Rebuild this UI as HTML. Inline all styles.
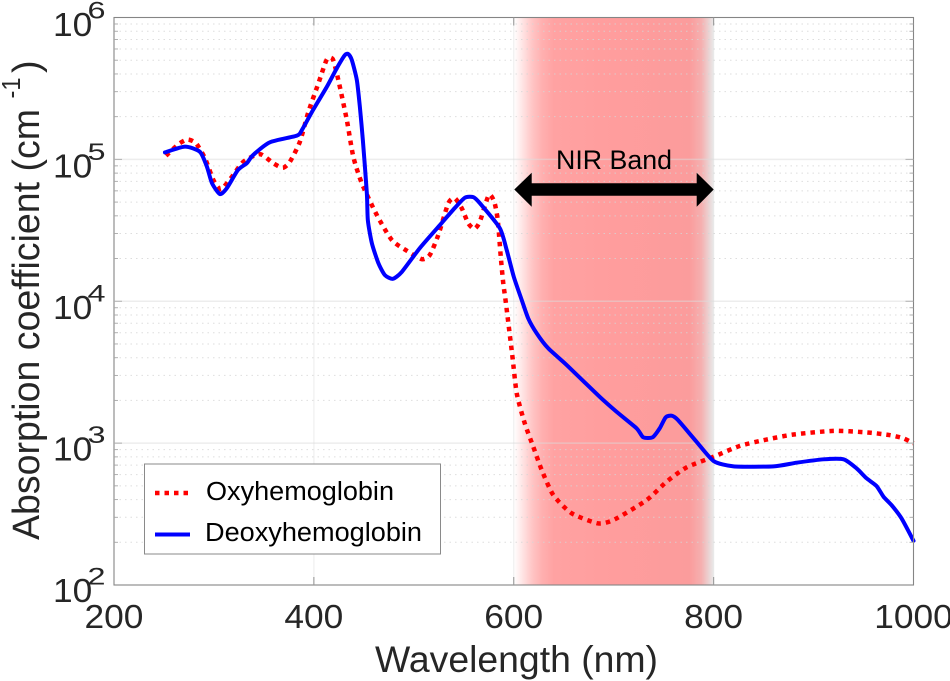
<!DOCTYPE html>
<html lang="en">
<head>
<meta charset="utf-8">
<title>Absorption coefficient of hemoglobin</title>
<style>
html,body{margin:0;padding:0;background:#fff;}
svg{display:block;font-family:"Liberation Sans",Arial,sans-serif;}
</style>
</head>
<body>
<svg id="chart" xmlns="http://www.w3.org/2000/svg" width="950" height="681" viewBox="0 0 950 681">
  <defs>
    <linearGradient id="bandFill" x1="0" x2="1" y1="0" y2="0">
      <stop offset="0" stop-color="#ffffff"/>
      <stop offset="0.04" stop-color="#ffe6e6"/>
      <stop offset="0.09" stop-color="#ffc6c6"/>
      <stop offset="0.14" stop-color="#ffb0b0"/>
      <stop offset="0.2" stop-color="#ffa2a2"/>
      <stop offset="0.5" stop-color="#ff9d9d"/>
      <stop offset="0.88" stop-color="#fb9c9c"/>
      <stop offset="0.94" stop-color="#f5b0b0"/>
      <stop offset="0.98" stop-color="#ead6d6"/>
      <stop offset="1" stop-color="#e9e9e9"/>
    </linearGradient>
  </defs>
  <rect x="514" y="17.5" width="199.5" height="567.5" fill="url(#bandFill)"/>
  <g id="grid"></g>
  <g id="series"></g>
  <rect x="114" y="17.5" width="799.5" height="567.5" fill="none" stroke="#858585" stroke-width="1.1"/>
  <g id="ticks"></g>
  <g id="labels"></g>

  <g>
    <text x="556" y="169" font-size="26.5" fill="#000" textLength="116" lengthAdjust="spacingAndGlyphs">NIR Band</text>
    <polygon fill="#000" points="514.3,189.5 531.7,172.7 531.7,183.3 696.7,183.3 696.7,172.7 713.7,189.5 696.7,206.7 696.7,195.7 531.7,195.7 531.7,206.7"/>
  </g>

  <g>
    <rect x="144.5" y="464" width="296" height="90" fill="#fff" stroke="#8a8a8a" stroke-width="1"/>
    <line x1="155" x2="189" y1="493" y2="493" stroke="#ff0000" stroke-width="4.5" stroke-dasharray="4.5 5"/>
    <text x="206" y="500" font-size="25.5" fill="#000" textLength="188" lengthAdjust="spacingAndGlyphs">Oxyhemoglobin</text>
    <line x1="155" x2="190" y1="534.5" y2="534.5" stroke="#0000ff" stroke-width="4"/>
    <text x="205" y="541" font-size="25.5" fill="#000" textLength="217" lengthAdjust="spacingAndGlyphs">Deoxyhemoglobin</text>
  </g>

  <text x="375" y="672" font-size="37" fill="#262626" textLength="283" lengthAdjust="spacingAndGlyphs">Wavelength (nm)</text>
  <g fill="#262626">
    <text transform="translate(39,540) rotate(-90)" font-size="38" textLength="431" lengthAdjust="spacingAndGlyphs">Absorption coefficient (cm</text>
    <text transform="translate(20,98.5) rotate(-90)" font-size="26" textLength="21" lengthAdjust="spacingAndGlyphs">-1</text>
    <text transform="translate(39,73) rotate(-90)" font-size="38">)</text>
  </g>
</svg>
<script>
// Chart data
const oxyWavelengths = [252,264.5,273.5,282,291,299.5,307,318,329.5,346,359.5,369,376,386,394.5,404.5,413,419,424.5,433,439.5,448,463,478,493,508,516,524.5,534.5,541,548,554.5,560.5,566,575,580.5,584,587,589.5,592,598.5,603,611,619.5,628,639.5,658,684.5,701,733,753,773,800,826,853,880,920,953,976,990,1000];
const oxyValues = [106000,128000,138000,130000,102000,71400,61500,75400,96200,109000,93700,87300,96200,133000,216000,343000,507000,507000,362000,189000,104000,67700,40500,27000,22700,19800,21200,29300,49000,53300,45200,35400,32400,36300,56000,50200,37300,20600,13400,9910,4180,2240,1380,944,646,431,320,272,290,397,535,675,802,955,1060,1150,1220,1190,1140,1080,997];
const deoxyWavelengths = [251,271,286,293,298,306,313,324,333,339,356,383,388,399,413,423,431,434.5,438,443,446,449,453,454,458,464.5,471,479,488,506,526,541,551,559.5,566,586,593,600,608,614.5,623,634.5,653,686,703,723,729.5,739,746,752,758,764.5,783,800,820,860,883,910,930,943,953,963,970,978,988,1000];
const deoxyValues = [112000,123000,113000,88700,68100,56900,62800,84100,94200,107000,132000,147000,161000,222000,325000,440000,543000,552000,501000,362000,235000,137000,57900,37300,25700,18600,15300,14400,16100,23700,34400,45400,53600,54200,49200,32800,22900,14900,10200,7570,5940,4660,3550,2120,1660,1270,1100,1100,1270,1520,1560,1450,1020,748,686,686,728,769,769,664,565,499,419,366,295,205];
const xTickValues = [200,400,600,800,1000];
const yTickExponents = [2,3,4,5,6];
const yMinorMultipliers = [2,3,4,5,6,7,8,9];

const NS = 'http://www.w3.org/2000/svg';
const plotLeft = 114, plotRight = 913.5, plotTop = 17.5, plotBottom = 585;
const xMin = 200, xMax = 1000, yMinExp = 2, yMaxExp = 6;
function xScale(w) { return plotLeft + (w - xMin) / (xMax - xMin) * (plotRight - plotLeft); }
function yScale(v) { return plotBottom - (Math.log10(v) - yMinExp) / (yMaxExp - yMinExp) * (plotBottom - plotTop); }

function make(tag, parent, attrs) {
  const el = document.createElementNS(NS, tag);
  for (const k in attrs) el.setAttribute(k, attrs[k]);
  parent.appendChild(el);
  return el;
}
function smoothPath(xs, ys) {
  const pts = xs.map(function (x, i) { return [xScale(x), yScale(ys[i])]; });
  let d = 'M' + pts[0][0].toFixed(2) + ' ' + pts[0][1].toFixed(2);
  for (let i = 0; i < pts.length - 1; i++) {
    const p0 = pts[Math.max(0, i - 1)], p1 = pts[i], p2 = pts[i + 1], p3 = pts[Math.min(pts.length - 1, i + 2)];
    const t = 0.11;
    d += ' C' + (p1[0] + (p2[0] - p0[0]) * t).toFixed(2) + ' ' + (p1[1] + (p2[1] - p0[1]) * t).toFixed(2) +
         ' ' + (p2[0] - (p3[0] - p1[0]) * t).toFixed(2) + ' ' + (p2[1] - (p3[1] - p1[1]) * t).toFixed(2) +
         ' ' + p2[0].toFixed(2) + ' ' + p2[1].toFixed(2);
  }
  return d;
}

const gridG = document.getElementById('grid');
const ticksG = document.getElementById('ticks');
const labelsG = document.getElementById('labels');
const seriesG = document.getElementById('series');

// Vertical grid, x ticks and x labels
xTickValues.forEach(function (w) {
  const x = xScale(w);
  if (w !== xMin && w !== xMax) {
    const g = make('line', gridG, { x1: x, x2: x, y1: plotTop, y2: plotBottom, stroke: '#dcdcdc', 'stroke-opacity': 0.45, 'stroke-width': 1.2 });
    
    
    const t1 = make('line', ticksG, { x1: x, x2: x, y1: plotBottom, y2: plotBottom - 8, stroke: '#9a9a9a', 'stroke-width': 1.1 });
    
    
    const t2 = make('line', ticksG, { x1: x, x2: x, y1: plotTop, y2: plotTop + 8, stroke: '#9a9a9a', 'stroke-width': 1.1 });
    
    
  }
  const lab = make('text', labelsG, { transform: 'translate(' + x + ',628) scale(1.07,1)', 'text-anchor': 'middle', 'font-size': 33, fill: '#262626' });
  
  
  lab.textContent = String(w);
});

// Horizontal grid, y ticks and y labels
yTickExponents.forEach(function (e) {
  const y = yScale(Math.pow(10, e));
  if (e !== yMinExp && e !== yMaxExp) {
    const g = make('line', gridG, { x1: plotLeft, x2: plotRight, y1: y, y2: y, stroke: '#dcdcdc', 'stroke-opacity': 0.5, 'stroke-width': 1.4 });
    
    
    [[plotLeft, plotLeft + 8], [plotRight, plotRight - 8]].forEach(function (s) {
      const t = make('line', ticksG, { x1: s[0], x2: s[1], y1: y, y2: y, stroke: '#b0b0b0', 'stroke-width': 1 });
      
      
    });
  }
  const off = 16.8 + (e - 2) * 0.45;
  const base = make('text', labelsG, { transform: 'translate(53,' + (y + off) + ') scale(1.07,1)', 'font-size': 33, fill: '#262626' });
  
  
  base.textContent = '10';
  const sup = make('text', labelsG, { transform: 'translate(87.5,' + (y + off - 17.5) + ') scale(1.35,1)', 'font-size': 24, fill: '#262626' });
  
  
  sup.textContent = String(e);

  if (e < yMaxExp) {
    yMinorMultipliers.forEach(function (m) {
      const ym = yScale(m * Math.pow(10, e));
      const g2 = make('line', gridG, { x1: plotLeft, x2: plotRight, y1: ym, y2: ym, stroke: '#d4d4d4', 'stroke-opacity': 0.8, 'stroke-width': 1, 'stroke-dasharray': '1.5 4' });
      
      
      [[plotLeft, plotLeft + 4], [plotRight, plotRight - 4]].forEach(function (s) {
        const t = make('line', ticksG, { x1: s[0], x2: s[1], y1: ym, y2: ym, stroke: '#a8a8a8', 'stroke-width': 0.9 });
        
        
      });
    });
  }
});

// Series
const oxyLine = make('path', seriesG, { d: smoothPath(oxyWavelengths, oxyValues), fill: 'none', stroke: '#ff0000', 'stroke-width': 4.5, 'stroke-dasharray': '4.5 5', 'stroke-linejoin': 'round' });


const deoxyLine = make('path', seriesG, { d: smoothPath(deoxyWavelengths, deoxyValues), fill: 'none', stroke: '#0000ff', 'stroke-width': 4, 'stroke-linejoin': 'round', 'stroke-linecap': 'round' });


</script>
</body>
</html>
